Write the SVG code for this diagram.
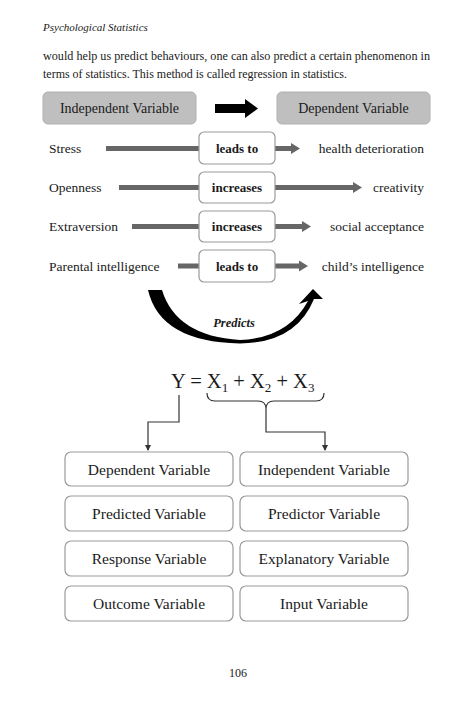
<svg xmlns="http://www.w3.org/2000/svg" width="474" height="715" viewBox="0 0 474 715">
<style>
text{font-family:"Liberation Serif","Times New Roman",serif;fill:#1a1a1a}
.hdr{font-size:11px;font-style:italic}
.para{font-size:13px}
.gbox{fill:#bfbfbf;stroke:#b0b0b0;stroke-width:1}
.gt{font-size:14px;text-anchor:middle}
.rt{font-size:13.5px}
.end{text-anchor:end}
.vb{fill:#fff;stroke:#9a9a9a;stroke-width:1.2}
.vbt{font-size:13px;font-weight:bold;text-anchor:middle}
.bar{fill:#666}
.lb{fill:#fff;stroke:#9a9a9a;stroke-width:1.2}
.lt{font-size:15.5px;text-anchor:middle}
.cn{fill:none;stroke:#333;stroke-width:1.2}
</style>
<defs>
<marker id="ah" markerWidth="6" markerHeight="6" refX="5" refY="3" orient="auto" markerUnits="userSpaceOnUse">
<path d="M0,0 L6,3 L0,6 Z" fill="#333"/>
</marker>
</defs>
<rect width="474" height="715" fill="#fff"/>
<text class="hdr" x="43" y="31">Psychological Statistics</text>
<text class="para" x="43" y="60" textLength="387" lengthAdjust="spacingAndGlyphs">would help us predict behaviours, one can also predict a certain phenomenon in</text>
<text class="para" x="43" y="78" textLength="304" lengthAdjust="spacingAndGlyphs">terms of statistics. This method is called regression in statistics.</text>

<g id="independent-top">
<rect class="gbox" x="43" y="92" width="153" height="32" rx="5"/>
<text class="gt" x="119.5" y="113">Independent Variable</text>
</g>
<g id="dependent-top">
<rect class="gbox" x="277" y="92" width="153" height="32" rx="5"/>
<text class="gt" x="353.5" y="113">Dependent Variable</text>
</g>

<g id="connectors">
<path d="M215,104 H245 V99 L258,108.5 L245,118 V113 H215 Z" fill="#000"/>
<rect class="bar" x="106" y="146" width="93" height="5"/>
<path class="bar" d="M275,146 H291 V143 L300,148.5 L291,154 V151 H275 Z"/>
<rect class="bar" x="119" y="185" width="80" height="5"/>
<path class="bar" d="M275,185 H353 V182 L362,187.5 L353,193 V190 H275 Z"/>
<rect class="bar" x="132" y="224" width="67" height="5"/>
<path class="bar" d="M275,224 H302 V221 L311,226.5 L302,232 V229 H275 Z"/>
<rect class="bar" x="178" y="263.5" width="21" height="5"/>
<path class="bar" d="M275,263.5 H299 V260.5 L308,266 L299,271.5 V268.5 H275 Z"/>
<path d="M148,290 L162,290 Q176,336 240,340 Q288,338 308,301 L299,304 L313,289 L323,299 L314,299 Q296,343 240,343.5 Q160,342 148,290 Z" fill="#000"/>
<path class="cn" d="M207,393 Q207,401 215,401 H258 Q266,401 266,409 Q266,401 274,401 H316 Q324,401 324,393"/>
<path class="cn" d="M266,409 V432 H325 V450" marker-end="url(#ah)"/>
<path class="cn" d="M179,395 V422 H148 V450" marker-end="url(#ah)"/>
</g>

<g id="row-stress">
<text class="rt" x="49" y="153">Stress</text>
<rect class="vb" x="199" y="132" width="76" height="32" rx="5"/>
<text class="vbt" x="237" y="153">leads to</text>
<text class="rt end" x="424" y="153">health deterioration</text>
</g>
<g id="row-openness">
<text class="rt" x="49" y="192">Openness</text>
<rect class="vb" x="199" y="172" width="76" height="31" rx="5"/>
<text class="vbt" x="237" y="192">increases</text>
<text class="rt end" x="424" y="192">creativity</text>
</g>
<g id="row-extraversion">
<text class="rt" x="49" y="231">Extraversion</text>
<rect class="vb" x="199" y="211" width="76" height="31" rx="5"/>
<text class="vbt" x="237" y="231">increases</text>
<text class="rt end" x="424" y="231">social acceptance</text>
</g>
<g id="row-parental">
<text class="rt" x="49" y="271">Parental intelligence</text>
<rect class="vb" x="199" y="250" width="76" height="32" rx="5"/>
<text class="vbt" x="237" y="271">leads to</text>
<text class="rt end" x="424" y="271">child’s intelligence</text>
</g>

<g id="predicts-label">
<text x="234" y="327" style="font-size:12.5px;font-style:italic;font-weight:bold;text-anchor:middle">Predicts</text>
</g>

<g id="equation">
<text x="171" y="388" style="font-size:20.5px">Y = X<tspan dy="4" font-size="13">1</tspan><tspan dy="-4"> + X</tspan><tspan dy="4" font-size="13">2</tspan><tspan dy="-4"> + X</tspan><tspan dy="4" font-size="13">3</tspan></text>
</g>

<g id="dependent-variable"><rect class="lb" x="65" y="452" width="168" height="34" rx="6"/><text class="lt" x="149" y="475">Dependent Variable</text></g>
<g id="independent-variable"><rect class="lb" x="240" y="452" width="168" height="34" rx="6"/><text class="lt" x="324" y="475">Independent Variable</text></g>
<g id="predicted-variable"><rect class="lb" x="65" y="496" width="168" height="35" rx="6"/><text class="lt" x="149" y="519">Predicted Variable</text></g>
<g id="predictor-variable"><rect class="lb" x="240" y="496" width="168" height="35" rx="6"/><text class="lt" x="324" y="519">Predictor Variable</text></g>
<g id="response-variable"><rect class="lb" x="65" y="541" width="168" height="35" rx="6"/><text class="lt" x="149" y="564">Response Variable</text></g>
<g id="explanatory-variable"><rect class="lb" x="240" y="541" width="168" height="35" rx="6"/><text class="lt" x="324" y="564">Explanatory Variable</text></g>
<g id="outcome-variable"><rect class="lb" x="65" y="586" width="168" height="35" rx="6"/><text class="lt" x="149" y="609">Outcome Variable</text></g>
<g id="input-variable"><rect class="lb" x="240" y="586" width="168" height="35" rx="6"/><text class="lt" x="324" y="609">Input Variable</text></g>

<text x="238" y="677" style="font-size:12px;text-anchor:middle">106</text>
</svg>
